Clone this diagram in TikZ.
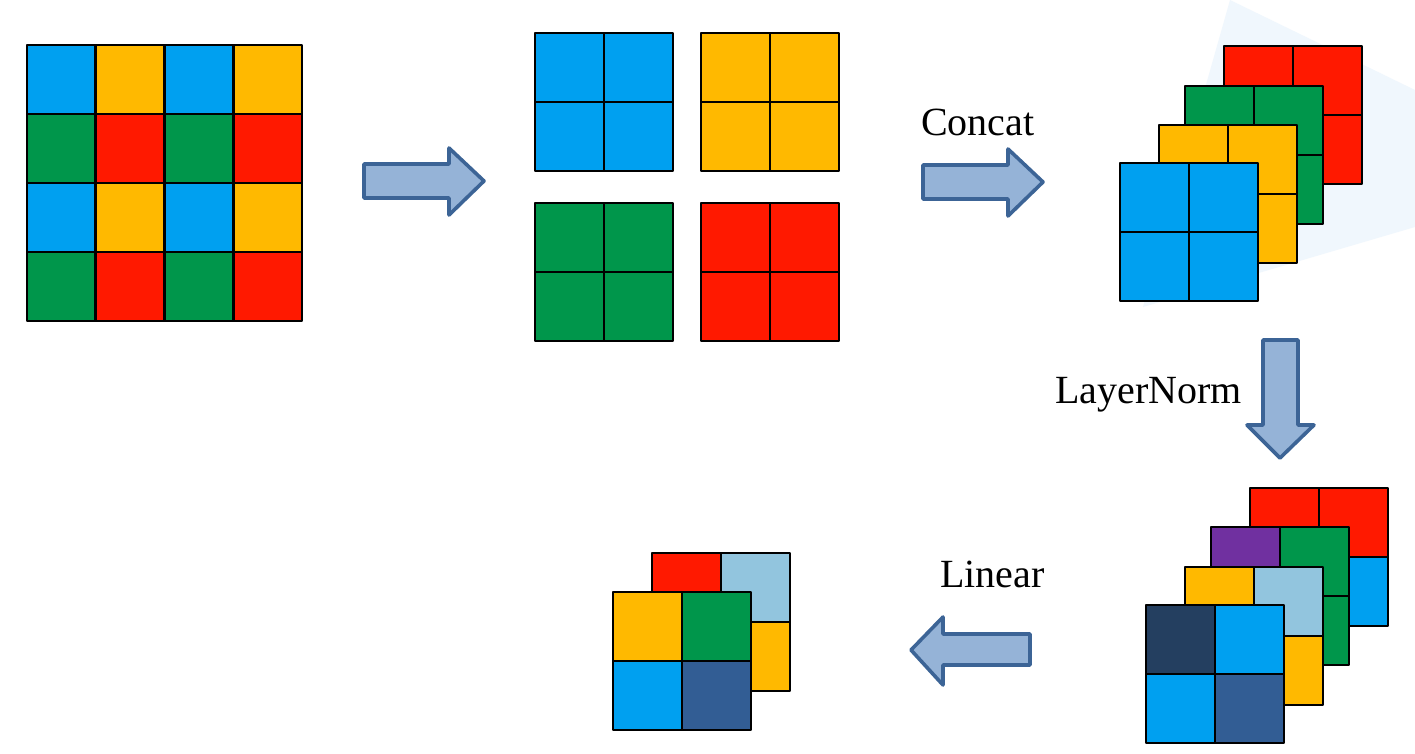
\documentclass[tikz,border=0pt]{standalone}
\usepackage{fontspec}
\setmainfont{Liberation Serif}
\definecolor{cblue}{HTML}{00A0F0}
\definecolor{cyel}{HTML}{FFB900}
\definecolor{cgreen}{HTML}{00964B}
\definecolor{cred}{HTML}{FF1900}
\definecolor{cnavy}{HTML}{243F60}
\definecolor{csteel}{HTML}{325D94}
\definecolor{clight}{HTML}{92C5DE}
\definecolor{cpurple}{HTML}{7030A0}
\definecolor{arrfill}{HTML}{95B3D7}
\definecolor{arrline}{HTML}{3C6496}
\definecolor{bgtri}{HTML}{F0F7FD}
\newcommand\quadsq[7]{%
  \pgfmathsetmacro\qh{#3/2}%
  \fill[#4] (#1,#2) rectangle ++(\qh,\qh);
  \fill[#5] (#1+\qh,#2) rectangle ++(\qh,\qh);
  \fill[#6] (#1,#2+\qh) rectangle ++(\qh,\qh);
  \fill[#7] (#1+\qh,#2+\qh) rectangle ++(\qh,\qh);
  \draw[gridline] (#1,#2) rectangle ++(#3,#3) (#1+\qh,#2) -- ++(0,#3) (#1,#2+\qh) -- ++(#3,0);
}
\begin{document}
\begin{tikzpicture}[x=1pt,y=-1pt,
  gridline/.style={draw=black,line width=2.8pt,line join=round},
  blockarrow/.style={fill=arrfill,draw=arrline,line width=3.6pt,line join=round},
  lbl/.style={font=\fontsize{40}{40}\selectfont,inner sep=0pt}]
\useasboundingbox (0,0) rectangle (1415,754);
\fill[white] (0,0) rectangle (1415,754);
% faint background shape
\fill[bgtri] (1230,0) -- (1415,90) -- (1415,227) -- (1143,307) -- cycle;
% input 4x4 grid
\foreach \r/\ca/\cb in {0/cblue/cyel,1/cgreen/cred,2/cblue/cyel,3/cgreen/cred}{
  \foreach \c in {0,1,2,3}{
    \pgfmathsetmacro\isodd{mod(\c,2)}
    \ifdim\isodd pt=0pt
      \fill[\ca] (27+\c*68.75,45+\r*69) rectangle ++(68.75,69);
    \else
      \fill[\cb] (27+\c*68.75,45+\r*69) rectangle ++(68.75,69);
    \fi
  }
}
\draw[gridline] (27,45) rectangle (302,321);
\foreach \c in {1,2,3}{
  \draw[gridline] (27+\c*68.75,45) -- ++(0,276);
  \draw[gridline] (27,45+\c*69) -- ++(275,0);
}
% arrow 1
\draw[blockarrow] (364,164) -- (449,164) -- (449,148) -- (484,181) -- (449,215) -- (449,198) -- (364,198) -- cycle;
% split grids
\quadsq{535}{33}{138}{cblue}{cblue}{cblue}{cblue}
\quadsq{701}{33}{138}{cyel}{cyel}{cyel}{cyel}
\quadsq{535}{203}{138}{cgreen}{cgreen}{cgreen}{cgreen}
\quadsq{701}{203}{138}{cred}{cred}{cred}{cred}
% Concat
\node[lbl,anchor=base west] (concat) at (921,136) {Concat};
\draw[blockarrow] (923,165) -- (1008,165) -- (1008,149) -- (1043,182) -- (1008,216) -- (1008,199) -- (923,199) -- cycle;
% concat stack
\quadsq{1224}{46}{138}{cred}{cred}{cred}{cred}
\quadsq{1185}{86}{138}{cgreen}{cgreen}{cgreen}{cgreen}
\quadsq{1159}{125}{138}{cyel}{cyel}{cyel}{cyel}
\quadsq{1120}{163}{138}{cblue}{cblue}{cblue}{cblue}
% LayerNorm
\node[lbl,anchor=base west] (ln) at (1055,403) {LayerNorm};
\draw[blockarrow] (1263,340) -- (1298,340) -- (1298,425) -- (1314,425) -- (1280,458) -- (1247,425) -- (1263,425) -- cycle;
% layernorm stack
\quadsq{1250}{488}{138}{cred}{cred}{cblue}{cblue}
\quadsq{1211}{527}{138}{cpurple}{cgreen}{cgreen}{cgreen}
\quadsq{1185}{567}{138}{cyel}{clight}{cyel}{cyel}
\quadsq{1146}{605}{138}{cnavy}{cblue}{cblue}{csteel}
% Linear
\node[lbl,anchor=base west] (linear) at (940,587) {Linear};
\draw[blockarrow] (1030,634) -- (943,634) -- (943,617) -- (911,650) -- (943,685) -- (943,665) -- (1030,665) -- cycle;
% output stack
\quadsq{652}{553}{138}{cred}{clight}{cyel}{cyel}
\quadsq{613}{592}{138}{cyel}{cgreen}{cblue}{csteel}
\end{tikzpicture}
\end{document}
